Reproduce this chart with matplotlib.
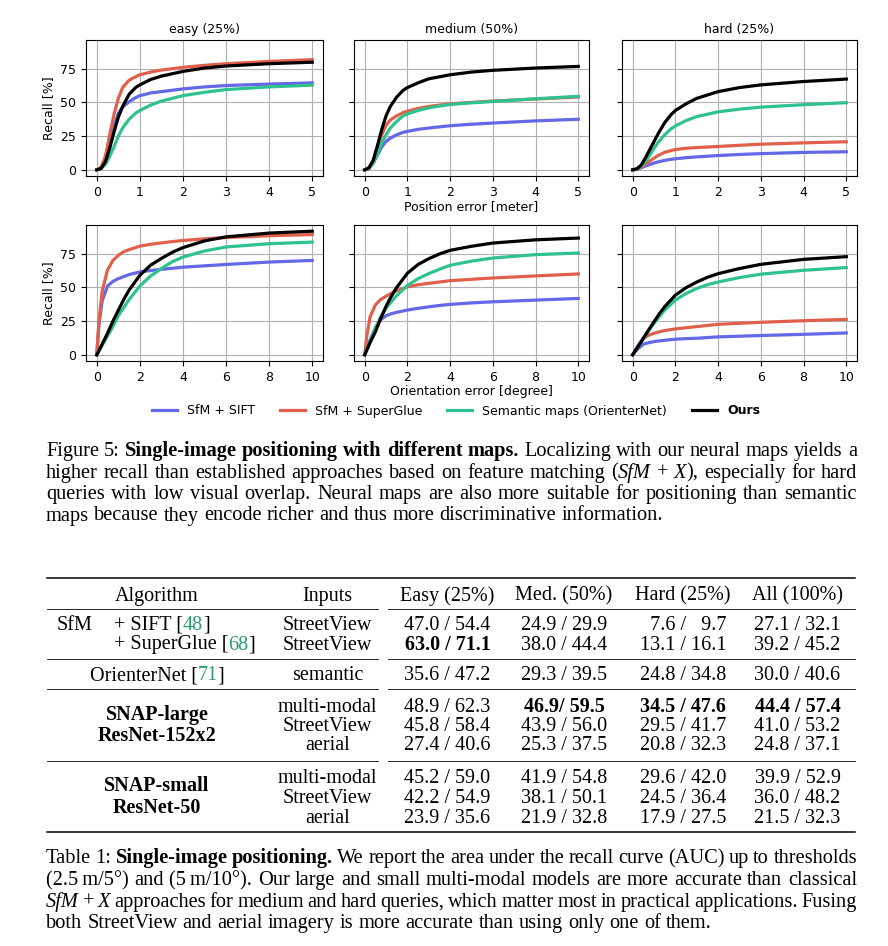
import matplotlib
matplotlib.use("Agg")
import matplotlib.pyplot as plt
from matplotlib.lines import Line2D

# ---------------- data ----------------
methods = ["SfM + SIFT", "SfM + SuperGlue", "Semantic maps (OrienterNet)", "Ours"]
difficulties = ["easy (25%)", "medium (50%)", "hard (25%)"]

pos_err = [0, 0.1, 0.2, 0.3, 0.4, 0.5, 0.6, 0.75, 0.9, 1, 1.25, 1.5, 2, 2.5, 3, 4, 5]
ori_err = [0, 0.1, 0.25, 0.5, 0.75, 1, 1.25, 1.5, 2, 2.5, 3, 3.5, 4, 5, 6, 8, 10]

# position recall [%]
pos_easy_sift      = [0, 1, 6, 18, 32, 42, 46.5, 50.5, 53.5, 55, 57, 58, 60, 61.5, 62.5, 63.6, 64.5]
pos_easy_superglue = [0, 2, 10, 26, 41, 53, 61, 66.5, 69, 70.5, 72.5, 74, 76, 77.5, 78.7, 80.4, 81.7]
pos_easy_semantic  = [0, 1, 4, 10, 17, 25, 31, 37.5, 42, 44, 48, 51, 55, 57.5, 59.5, 61.5, 62.8]
pos_easy_ours      = [0, 1, 6, 16, 28, 39, 47, 56, 61, 63, 67, 69.5, 73, 75.5, 77, 78.7, 79.8]

pos_med_sift       = [0, 1, 5, 11, 17, 21, 23.5, 26, 27.8, 28.5, 30, 31, 32.7, 33.8, 34.7, 36.3, 37.5]
pos_med_superglue  = [0, 1.5, 7, 17, 26, 33, 37, 40, 42.5, 43.5, 45.5, 47, 49, 50, 51, 52.5, 54]
pos_med_semantic   = [0, 1, 5, 12, 20, 26, 31, 36, 40, 41.5, 44, 46, 48.5, 49.7, 50.7, 52.7, 54.5]
pos_med_ours       = [0, 1.5, 7, 18, 30, 40, 47, 54, 59, 61, 64.5, 67.5, 70.5, 72.5, 73.8, 75.5, 76.7]

pos_hard_sift      = [0, 0.3, 1.5, 2.8, 4, 5, 5.9, 7, 7.8, 8.2, 9, 9.6, 10.6, 11.4, 12, 12.9, 13.4]
pos_hard_superglue = [0, 0.5, 2, 4, 6.5, 8.7, 10.7, 13, 14.3, 15, 16, 16.5, 17.3, 18.2, 19, 20, 20.8]
pos_hard_semantic  = [0, 0.5, 2.5, 6, 11, 16, 20.5, 26, 30.5, 32.5, 36.5, 39.5, 43, 45, 46.5, 48.3, 49.8]
pos_hard_ours      = [0, 0.8, 3.5, 9, 15, 21, 27, 35, 41, 44, 49, 53, 58, 61, 63, 65.5, 67.3]

# orientation recall [%]
ori_easy_sift      = [0, 22, 40, 51, 54.5, 56.5, 58, 59.5, 61.5, 62.5, 63.4, 64.2, 65, 66, 67, 68.8, 70]
ori_easy_superglue = [0, 25, 47, 63, 70, 73.8, 76.5, 78, 80.6, 82, 83, 84, 84.8, 86, 87, 88.3, 89.2]
ori_easy_semantic  = [0, 3, 7, 14, 21, 29, 35, 41, 51, 58.5, 64, 69, 72.5, 77, 80, 82.4, 83.6]
ori_easy_ours      = [0, 3, 8, 16, 25, 33, 41, 48, 59, 66.5, 71.5, 76, 79.5, 84.5, 87.5, 90.3, 91.7]

ori_med_sift       = [0, 5, 11, 20, 26, 29, 30.5, 31.5, 33.2, 34.5, 35.6, 36.6, 37.4, 38.5, 39.3, 40.6, 41.8]
ori_med_superglue  = [0, 14, 28, 37, 41, 43.5, 45.7, 47.5, 50.4, 52, 53, 54, 55, 56, 57, 58.5, 60]
ori_med_semantic   = [0, 4, 10, 20, 28, 34.5, 39.5, 44, 51.5, 56.5, 60.2, 63.5, 66.4, 69.5, 71.8, 74.3, 75.5]
ori_med_ours       = [0, 3.5, 9, 17, 27, 36, 43.5, 50, 60.5, 67, 71.3, 74.8, 77.5, 80.5, 82.9, 85.3, 86.6]

ori_hard_sift      = [0, 2, 4.5, 7.9, 9, 9.8, 10.3, 10.8, 11.6, 12, 12.3, 12.8, 13.3, 13.8, 14.3, 15.2, 16.2]
ori_hard_superglue = [0, 3, 7, 12.3, 14.5, 16, 17.1, 18, 19.2, 20.1, 20.9, 21.8, 22.6, 23.4, 24.1, 25.3, 26.3]
ori_hard_semantic  = [0, 2.5, 6, 12, 18, 23.4, 28.5, 33.2, 40.6, 45.5, 49.2, 52, 54, 57.3, 59.8, 62.7, 64.7]
ori_hard_ours      = [0, 2.5, 6, 12.3, 18.5, 24.6, 30.5, 35.7, 44.3, 49.8, 54, 57.5, 60.2, 64, 67.1, 70.8, 72.8]

yticks = [0, 25, 50, 75]
pos_xticks = [0, 1, 2, 3, 4, 5]
ori_xticks = [0, 2, 4, 6, 8, 10]

# table data
tab_headers = ["Algorithm", "Inputs", "Easy (25%)", "Med. (50%)", "Hard (25%)", "All (100%)"]
tab_inputs = ["StreetView", "StreetView", "semantic", "multi-modal", "StreetView", "aerial",
              "multi-modal", "StreetView", "aerial"]
tab_easy = ["47.0 / 54.4", "63.0 / 71.1", "35.6 / 47.2", "48.9 / 62.3", "45.8 / 58.4",
            "27.4 / 40.6", "45.2 / 59.0", "42.2 / 54.9", "23.9 / 35.6"]
tab_med = ["24.9 / 29.9", "38.0 / 44.4", "29.3 / 39.5", "46.9/ 59.5", "43.9 / 56.0",
           "25.3 / 37.5", "41.9 / 54.8", "38.1 / 50.1", "21.9 / 32.8"]
tab_hard = ["\u20077.6 / \u20079.7", "13.1 / 16.1", "24.8 / 34.8", "34.5 / 47.6", "29.5 / 41.7",
            "20.8 / 32.3", "29.6 / 42.0", "24.5 / 36.4", "17.9 / 27.5"]
tab_all = ["27.1 / 32.1", "39.2 / 45.2", "30.0 / 40.6", "44.4 / 57.4", "41.0 / 53.2",
           "24.8 / 37.1", "39.9 / 52.9", "36.0 / 48.2", "21.5 / 32.3"]
tab_bold = [(1, 2), (3, 3), (3, 4), (3, 5)]  # (row, column) bold cells

caption_fig = [
    "Figure 5: §Single-image positioning with different maps.§ Localizing with our neural maps yields a",
    "higher recall than established approaches based on feature matching (¤SfM¤ + ¤X¤), especially for hard",
    "queries with low visual overlap. Neural maps are also more suitable for positioning than semantic",
    "maps because they encode richer and thus more discriminative information.",
]
caption_tab = [
    "Table 1: §Single-image positioning.§ We report the area under the recall curve (AUC) up to thresholds",
    "(2.5\u2009m/5°) and (5\u2009m/10°). Our large and small multi-modal models are more accurate than classical",
    "¤SfM¤ + ¤X¤ approaches for medium and hard queries, which matter most in practical applications. Fusing",
    "both StreetView and aerial imagery is more accurate than using only one of them.",
]

# ---------------- figure ----------------
W, H = 888, 946
fig = plt.figure(figsize=(W / 100, H / 100), dpi=100)
plt.rcParams["font.size"] = 9


def fx(px):
    return px / W


def fy(py):
    return 1 - py / H


colors = ["#6467e6", "#e0604c", "#2ec28f", "#000000"]
series = {
    (0, 0): [pos_easy_sift, pos_easy_superglue, pos_easy_semantic, pos_easy_ours],
    (0, 1): [pos_med_sift, pos_med_superglue, pos_med_semantic, pos_med_ours],
    (0, 2): [pos_hard_sift, pos_hard_superglue, pos_hard_semantic, pos_hard_ours],
    (1, 0): [ori_easy_sift, ori_easy_superglue, ori_easy_semantic, ori_easy_ours],
    (1, 1): [ori_med_sift, ori_med_superglue, ori_med_semantic, ori_med_ours],
    (1, 2): [ori_hard_sift, ori_hard_superglue, ori_hard_semantic, ori_hard_ours],
}

cols = [(86, 323), (354, 589), (622, 857)]
rows = [(40, 176), (225, 361)]
first = None
handles = None
for r, (t, b) in enumerate(rows):
    for c, (l, rr) in enumerate(cols):
        ax = fig.add_axes([fx(l), fy(b), (rr - l) / W, (b - t) / H], sharey=first)
        if first is None:
            first = ax
        xs = pos_err if r == 0 else ori_err
        hs = []
        for ys, col, name in zip(series[(r, c)], colors, methods):
            h, = ax.plot(xs, ys, color=col, lw=2.3, label=name, solid_joinstyle="round")
            hs.append(h)
        handles = hs
        ax.grid(True, color="#b0b0b0", lw=0.8)
        ax.set_axisbelow(True)
        ax.set_yticks(yticks)
        ax.set_xticks(pos_xticks if r == 0 else ori_xticks)
        ax.tick_params(labelsize=9, length=3.5, width=0.8)
        for s in ax.spines.values():
            s.set_linewidth(0.8)
        if c > 0:
            ax.tick_params(labelleft=False)
        else:
            ax.set_ylabel("Recall [%]", fontsize=9)
        if r == 0:
            ax.set_title(difficulties[c], fontsize=9, pad=5)
        if c == 1:
            ax.set_xlabel("Position error [meter]" if r == 0 else "Orientation error [degree]",
                          fontsize=9, labelpad=1)

leg = fig.legend(handles, methods, loc="center", ncol=4, frameon=False, fontsize=9,
                 bbox_to_anchor=(fx(456), fy(411)), handlelength=2.0, columnspacing=2.0)
leg.get_texts()[-1].set_fontweight("bold")

# ---------------- text helpers ----------------
SERIF = ["Liberation Serif", "DejaVu Serif"]
renderer = fig.canvas.get_renderer()


def parse(s):
    words, cur, buf = [], [], ""
    bold = ital = False
    for ch in s:
        if ch in "§¤ ":
            if buf:
                cur.append((buf, bold, ital))
                buf = ""
            if ch == "§":
                bold = not bold
            elif ch == "¤":
                ital = not ital
            else:
                if cur:
                    words.append(cur)
                    cur = []
        else:
            buf += ch
    if buf:
        cur.append((buf, bold, ital))
    if cur:
        words.append(cur)
    return words


def draw_line(s, x0, x1, y, size, justify=True):
    words = parse(s)
    objs, widths = [], []
    for w in words:
        pieces, wsum = [], 0
        for txt, b, it in w:
            t = fig.text(0, fy(y), txt, fontsize=size, family=SERIF,
                         fontweight="bold" if b else "normal",
                         fontstyle="italic" if it else "normal",
                         va="baseline", ha="left")
            ww = t.get_window_extent(renderer).width
            pieces.append((t, ww))
            wsum += ww
        objs.append(pieces)
        widths.append(wsum)
    total = sum(widths)
    if justify and len(words) > 1:
        gap = (x1 - x0 - total) / (len(words) - 1)
    else:
        gap = size * 100 / 72 * 0.25
    x = x0
    for pieces in objs:
        for t, ww in pieces:
            t.set_x(fx(x))
            x += ww
        x += gap


def draw_pieces(x, y, pieces, size, ha="left"):
    objs, total = [], 0
    for txt, col, b in pieces:
        t = fig.text(0, fy(y), txt, fontsize=size, family=SERIF, color=col,
                     fontweight="bold" if b else "normal", va="baseline", ha="left")
        ww = t.get_window_extent(renderer).width
        objs.append((t, ww))
        total += ww
    if ha == "center":
        x = x - total / 2
    for t, ww in objs:
        t.set_x(fx(x))
        x += ww


# ---------------- figure caption ----------------
cap_size = 14.7
for i, (line, yb) in enumerate(zip(caption_fig, [456, 477.5, 499, 520.5])):
    draw_line(line, 46, 857, yb, cap_size, justify=(i < len(caption_fig) - 1))

# ---------------- table ----------------
def hline(x0, x1, y, lw):
    fig.add_artist(Line2D([fx(x0), fx(x1)], [fy(y), fy(y)], color="black", lw=lw,
                          transform=fig.transFigure))


hline(47, 855, 577.5, 1.1)
for yy in [609, 659, 689, 761]:
    hline(47, 378, yy, 0.6)
    hline(388, 855, yy, 0.6)
hline(47, 855, 832, 1.1)

tsize = 14.5
col_x = [157, 327.5, 447.5, 564, 683, 797.5]
for hx, htxt in zip(col_x, tab_headers):
    fig.text(fx(hx), fy(600.5), htxt, fontsize=tsize, family=SERIF, ha="center", va="baseline")

row_y = [629.5, 649.5, 680.5, 711.5, 730.5, 749.5, 782.5, 802.5, 822.5]
cite = "#2a9d6f"
fig.text(fx(57), fy(row_y[0]), "SfM", fontsize=tsize, family=SERIF, ha="left", va="baseline")
draw_pieces(114, row_y[0], [("+ SIFT [", "black", False), ("48", cite, False), ("]", "black", False)], tsize)
draw_pieces(114, row_y[1], [("+ SuperGlue [", "black", False), ("68", cite, False), ("]", "black", False)], tsize)
draw_pieces(157, row_y[2], [("OrienterNet [", "black", False), ("71", cite, False), ("]", "black", False)],
            tsize, ha="center")
for txt, yb in [("SNAP-large", 719.5), ("ResNet-152x2", 741), ("SNAP-small", 791), ("ResNet-50", 813)]:
    fig.text(fx(157), fy(yb), txt, fontsize=tsize, family=SERIF, fontweight="bold",
             ha="center", va="baseline")

columns = [tab_inputs, tab_easy, tab_med, tab_hard, tab_all]
for ci, colvals in enumerate(columns, start=1):
    for ri, val in enumerate(colvals):
        bold = (ri, ci) in tab_bold
        fig.text(fx(col_x[ci]), fy(row_y[ri]), val, fontsize=tsize, family=SERIF,
                 fontweight="bold" if bold else "normal", ha="center", va="baseline")

# ---------------- table caption ----------------
for i, (line, yb) in enumerate(zip(caption_tab, [863, 885, 906.5, 928])):
    draw_line(line, 46, 857, yb, cap_size, justify=(i < len(caption_tab) - 1))

fig.savefig("out.png", dpi=100)
